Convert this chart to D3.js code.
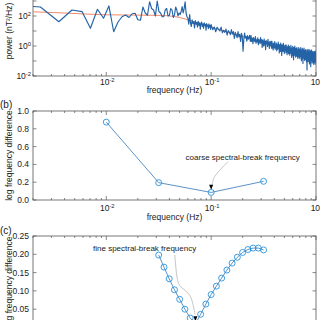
<!DOCTYPE html>
<html>
<head>
<meta charset="utf-8">
<script src="https://cdn.jsdelivr.net/npm/d3@7"></script>
<style>
  body { margin: 0; background: #fff; }
  svg { display: block; font-family: "Liberation Sans", Arial, sans-serif; }
</style>
</head>
<body>
<div id="visualization"></div>
<script>
// (a) spectrum below 0.1 Hz, one value per FFT bin of 1/850 Hz (log10 power)
const binWidth = 1 / 850;
const lowLogPower = [
  2.75, 2.6, 1.62, 2.4, 2.29, 1.18, 2.45, 1.85, 2.67, 0.95,
  1.6, 1.95, 2.07, 1.9, 2.15, 2.18, 1.75, 1.72, 2.6, 2.2,
  2.05, 2.95, 2.5, 2.4, 2.0, 3.0, 2.3, 2.2, 1.95, 1.95,
  2.4, 2.5, 2.0, 2.05, 2.5, 2.4, 1.9, 2.07, 2.6, 2.4,
  2.0, 2.2, 2.1, 2.3, 2.62, 2.2, 2.5, 2.95, 2.2, 1.95,
  1.85, 1.45, 2.1, 1.55, 1.3, 1.75, 1.5, 1.62, 1.2, 1.7,
  1.45, 1.58, 1.25, 1.65, 1.38, 1.55, 1.12, 1.5, 1.6, 1.3,
  1.48, 1.18, 1.55, 1.35, 1.45, 1.05, 1.5, 1.32, 1.4, 1.15,
  1.47, 1.25, 1.38, 1.1,
];

// (a) spectrum from 0.1 Hz up, read every 0.0035 Hz (log10 power)
const highStart = 0.1;
const highStep = 0.0035;
const highLogPower = [
  1.43, 1.09, 1.27, 0.95, 1.25, 1.12, 1.00, 1.26, 0.88, 1.05,
  0.91, 1.13, 0.72, 1.02, 0.92, 0.76, 1.10, 0.79, 0.96, 0.51,
  0.91, 0.73, 0.55, 0.96, 0.61, 0.78, 0.30, 0.85, 0.65, -0.35,
  0.45, 0.86, 0.53, 0.65, 0.32, 0.70, 0.45, 0.56, 0.71, 0.30,
  0.69, 0.30, 0.53, 0.16, 0.56, 0.41, 0.29, 0.63, 0.18, 0.41,
  0.27, 0.54, 0.08, 0.43, 0.34, 0.16, 0.57, 0.22, 0.43, -0.09,
  0.39, 0.20, -0.01, 0.47, 0.08, 0.29, -0.25, 0.38, 0.17, 0.28,
  -0.03, 0.44, 0.07, 0.21, -0.16, 0.29, 0.01, 0.15, 0.32, -0.14,
  0.31, -0.14, 0.13, -0.27, 0.19, 0.02, -0.11, 0.29, -0.22, 0.05,
  -0.12, 0.19, -0.32, 0.09, -0.02, -0.21, 0.26, -0.13, 0.12, -0.46,
  0.08, -0.13, -0.36, 0.19, -0.25, -0.02, -0.63, 0.09, -0.14, -0.02,
  -0.36, 0.18, -0.24, -0.07, -0.49, 0.02, -0.29, -0.12, 0.07, -0.45,
  0.06, -0.43, -0.12, -0.58, -0.06, -0.24, -0.39, 0.07, -0.51, -0.20,
  -0.39, -0.03, -0.61, -0.15, -0.26, -0.48, 0.05, -0.38, -0.10, -0.76,
  -0.14, -0.38, -0.64, -0.02, -0.50, -0.25, -0.92, -0.11, -0.37, -0.23,
  -0.61, -0.01, -0.47, -0.29, -0.74, -0.17, -0.52, -0.33, -0.12, -0.69,
  -0.12, -0.66, -0.32, -0.83, -0.25, -0.45, -0.62, -0.11, -0.74, -0.39,
  -0.60, -0.20, -0.85, -0.33, -0.45, -0.70, -0.10, -0.58, -0.27, -0.99,
  -0.31, -0.56, -0.86, -0.16, -0.69, -0.42, -1.16, -0.25, -0.55, -0.39,
  -0.81, -0.14, -0.65, -0.44, -0.96, -0.33, -0.72, -0.51, -0.26, -0.89,
  -0.26, -0.87, -0.48, -1.04, -0.40, -0.62, -1.60, -0.24, -0.93, -0.54,
  -0.77, -0.33, -1.05, -0.47, -0.61, -0.88, -0.22, -0.75, -0.41, -1.20,
  -0.45, -0.73, -1.05, -0.28, -0.87, -0.56, -1.38, -0.38, -0.71, -0.53,
  -0.98, -0.27, -0.81, -0.58, -1.14, -0.46, -0.87, -0.65, -0.38, -1.06,
  -0.38, -1.03, -0.62, -1.22, -0.53, -0.77, -0.95, -0.36, -1.10, -0.69,
  -0.92, -0.45, -1.21, -0.60, -0.74, -1.04, -0.33, -0.89,
];

// (a) fitted model, red
const modelFreq = [0.002, 0.004, 0.006, 0.01, 0.02, 0.033, 0.05, 0.07, 0.1, 0.14, 0.2, 0.3, 0.42, 0.6, 0.87, 1.0];
const modelLogPower = [2.28, 2.2, 2.14, 2.08, 2.06, 2.04, 1.9, 1.6, 1.25, 0.95, 0.63, 0.27, 0.02, -0.33, -0.68, -0.8];

// (b) coarse search
const coarseFreq = [0.01, 0.0316, 0.1, 0.3162];
const coarseDiff = [0.875, 0.195, 0.085, 0.21];

// (c) fine search
const fineFreq = [0.0316, 0.0355, 0.0398, 0.0447, 0.0501, 0.0562, 0.0631, 0.0708, 0.0794, 0.0891,
  0.1, 0.1122, 0.1259, 0.1413, 0.1585, 0.1778, 0.1995, 0.2239, 0.2512, 0.2818, 0.3162];
const fineDiff = [0.198, 0.165, 0.133, 0.103, 0.077, 0.050, 0.026, 0.010, 0.036, 0.064,
  0.090, 0.113, 0.135, 0.157, 0.176, 0.192, 0.205, 0.213, 0.217, 0.217, 0.212];

// annotations, in data units [freq, value]
const coarseNote = { text: 'coarse spectral-break frequency', at: [0.2, 0.45],
  path: [[0.1444, 0.43], [0.1259, 0.356], [0.1093, 0.281], [0.1043, 0.225], [0.1021, 0.165]], tip: [0.1, 0.115] };
const fineNote = { text: 'fine spectral-break frequency', at: [0.0232, 0.209],
  path: [[0.045, 0.198], [0.0471, 0.129], [0.0504, 0.110], [0.0624, 0.094], [0.0667, 0.069], [0.0702, 0.036]], tip: [0.0708, 0.017] };

const powerTickExps = [-2, -1, 0, 1, 2, 3];
const powerLabelExps = [-2, 0, 2];
const freqLabelExps = [-2, -1, 0];
const coarseTicks = [0, 0.2, 0.4, 0.6, 0.8, 1.0];
const fineTicks = [0, 0.05, 0.1, 0.15, 0.2, 0.25];

const axisColor = '#555';
const textColor = '#222';

const svg = d3.select('#visualization').append('svg')
  .attr('width', 320)
  .attr('height', 320);

const x = d3.scaleLog().domain([0.002, 1]).range([33, 316]);
const yPower = d3.scaleLog().domain([1e-2, 1e4]).range([76, -14]);
const yCoarse = d3.scaleLinear().domain([0, 1]).range([200, 111]);
const yFine = d3.scaleLinear().domain([0, 0.25]).range([327.5, 236]);

const isDecade = (f) => Math.abs(Math.log10(f) - Math.round(Math.log10(f))) < 1e-6;

function powerText(sel, exp) {
  sel.append('tspan').text('10');
  sel.append('tspan').attr('dy', -3.5).attr('font-size', 5.8).text(exp);
}

function drawFrame(y, yTickValues, yLabel) {
  const g = svg.append('g');
  const [x0, x1] = x.range();
  const [yb, yt] = y.range();

  g.append('rect')
    .attr('x', x0).attr('y', yt)
    .attr('width', x1 - x0).attr('height', yb - yt)
    .attr('fill', 'none')
    .attr('stroke', axisColor)
    .attr('stroke-width', 0.8);

  // frequency ticks, bottom and top, pointing in
  x.ticks().forEach((f) => {
    const len = isDecade(f) ? 4 : 2;
    g.append('line').attr('x1', x(f)).attr('x2', x(f)).attr('y1', yb).attr('y2', yb - len)
      .attr('stroke', axisColor).attr('stroke-width', 0.7);
    g.append('line').attr('x1', x(f)).attr('x2', x(f)).attr('y1', yt).attr('y2', yt + len)
      .attr('stroke', axisColor).attr('stroke-width', 0.7);
  });

  yTickValues.forEach((v) => {
    g.append('line').attr('x1', x0).attr('x2', x0 + 3.5).attr('y1', y(v)).attr('y2', y(v))
      .attr('stroke', axisColor).attr('stroke-width', 0.7);
    g.append('line').attr('x1', x1).attr('x2', x1 - 3.5).attr('y1', y(v)).attr('y2', y(v))
      .attr('stroke', axisColor).attr('stroke-width', 0.7);
  });

  g.append('text')
    .attr('transform', `translate(12,${(yb + yt) / 2}) rotate(-90)`)
    .attr('text-anchor', 'middle')
    .attr('font-size', 8.5)
    .attr('fill', textColor)
    .text(yLabel);

  return g;
}

function drawFreqLabels(g, y, tickBase, labelBase) {
  freqLabelExps.forEach((e) => {
    g.append('text')
      .attr('x', x(10 ** e) + 1)
      .attr('y', y.range()[0] + tickBase)
      .attr('text-anchor', 'middle')
      .attr('font-size', 8.5)
      .attr('fill', textColor)
      .call(powerText, e);
  });
  g.append('text')
    .attr('x', (x.range()[0] + x.range()[1]) / 2)
    .attr('y', y.range()[0] + labelBase)
    .attr('text-anchor', 'middle')
    .attr('font-size', 8.5)
    .attr('fill', textColor)
    .text('frequency (Hz)');
}

function drawNote(g, y, note) {
  g.append('text')
    .attr('x', x(note.at[0]))
    .attr('y', y(note.at[1]))
    .attr('text-anchor', 'middle')
    .attr('font-size', 8)
    .attr('fill', textColor)
    .text(note.text);
  g.append('path')
    .attr('d', d3.line().x((d) => x(d[0])).y((d) => y(d[1])).curve(d3.curveBasis)(note.path))
    .attr('fill', 'none')
    .attr('stroke', '#b8b8b8')
    .attr('stroke-width', 0.8);
  const tx = x(note.tip[0]);
  const ty = y(note.tip[1]);
  g.append('path')
    .attr('d', `M${tx},${ty}L${tx - 2},${ty - 5}L${tx + 2},${ty - 5}Z`)
    .attr('fill', '#000');
}

function drawSearch(g, y, freqs, diffs) {
  const pts = freqs.map((f, i) => [f, diffs[i]]);
  g.append('path')
    .attr('d', d3.line().x((d) => x(d[0])).y((d) => y(d[1]))(pts))
    .attr('fill', 'none')
    .attr('stroke', '#4a86c0')
    .attr('stroke-width', 0.9);
  g.selectAll('circle.pt')
    .data(pts)
    .enter()
    .append('circle')
    .attr('class', 'pt')
    .attr('cx', (d) => x(d[0]))
    .attr('cy', (d) => y(d[1]))
    .attr('r', 3)
    .attr('fill', 'none')
    .attr('stroke', '#2b93dc')
    .attr('stroke-width', 0.9);
}

// ---- panel (a)
const spectrum = lowLogPower.map((v, i) => [(i + 1) * binWidth, 10 ** v])
  .concat(highLogPower.map((v, i) => [highStart + i * highStep, 10 ** v]));
const model = modelFreq.map((f, i) => [f, 10 ** modelLogPower[i]]);

svg.append('clipPath').attr('id', 'clipA')
  .append('rect')
  .attr('x', x.range()[0]).attr('y', yPower.range()[1])
  .attr('width', x.range()[1] - x.range()[0])
  .attr('height', yPower.range()[0] - yPower.range()[1]);

const lineA = d3.line().x((d) => x(d[0])).y((d) => yPower(d[1]));
const gA = drawFrame(yPower, powerTickExps.map((e) => 10 ** e), 'power (nT\u00b2/Hz)');

gA.append('path')
  .attr('clip-path', 'url(#clipA)')
  .attr('d', lineA.curve(d3.curveMonotoneX)(model))
  .attr('fill', 'none')
  .attr('stroke', '#ef7b5c')
  .attr('stroke-width', 0.9);

gA.append('path')
  .attr('clip-path', 'url(#clipA)')
  .attr('d', d3.line().x((d) => x(d[0])).y((d) => yPower(d[1]))(spectrum))
  .attr('fill', 'none')
  .attr('stroke', '#2463a6')
  .attr('stroke-width', 1.15)
  .attr('stroke-linejoin', 'round');

powerLabelExps.forEach((e) => {
  gA.append('text')
    .attr('x', 31)
    .attr('y', yPower(10 ** e) + 3)
    .attr('text-anchor', 'end')
    .attr('font-size', 8.5)
    .attr('fill', textColor)
    .call(powerText, e);
});
drawFreqLabels(gA, yPower, 9, 17);

// ---- panel (b)
const gB = drawFrame(yCoarse, coarseTicks, 'log frequency difference');
coarseTicks.forEach((v) => {
  gB.append('text')
    .attr('x', 29).attr('y', yCoarse(v) + 3)
    .attr('text-anchor', 'end')
    .attr('font-size', 8.5)
    .attr('fill', textColor)
    .text(d3.format('.1f')(v));
});
drawFreqLabels(gB, yCoarse, 11, 19.5);
drawSearch(gB, yCoarse, coarseFreq, coarseDiff);
drawNote(gB, yCoarse, coarseNote);
svg.append('text').attr('x', 0).attr('y', 108).attr('font-size', 10).attr('fill', textColor).text('(b)');

// ---- panel (c)
const gC = drawFrame(yFine, fineTicks, 'log frequency difference');
fineTicks.forEach((v) => {
  gC.append('text')
    .attr('x', 29).attr('y', yFine(v) + 3)
    .attr('text-anchor', 'end')
    .attr('font-size', 8.5)
    .attr('fill', textColor)
    .text(d3.format('.2f')(v));
});
drawSearch(gC, yFine, fineFreq, fineDiff);
drawNote(gC, yFine, fineNote);
svg.append('text').attr('x', 0).attr('y', 234).attr('font-size', 10).attr('fill', textColor).text('(c)');
</script>
</body>
</html>
